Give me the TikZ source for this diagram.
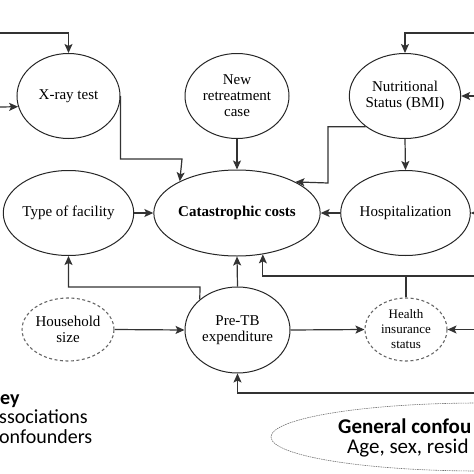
\documentclass[tikz,border=0pt]{standalone}
\usepackage{fontspec}
\setmainfont{Liberation Serif}
\newfontfamily\keyfont{Carlito}
\usetikzlibrary{shapes.geometric,arrows.meta}
\begin{document}
\begin{tikzpicture}[x=1pt,y=-1pt,
  ell/.style={ellipse,draw=black!85,line width=1pt,inner sep=0pt,align=center,font=\fontsize{15}{16}\selectfont},
  dell/.style={ell,draw=black!60,dash pattern=on 3pt off 2.5pt,line width=1.1pt},
  arr/.style={draw=black!80,line width=1.2pt,-{Stealth[length=9pt,width=8pt,inset=2pt]}},
  ln/.style={draw=black!80,line width=1.2pt},
  keytxt/.style={font=\keyfont\fontsize{20}{20}\selectfont,anchor=base west,inner sep=0pt},
]
\useasboundingbox (0,0) rectangle (474,474);
\clip (0,0) rectangle (474,474);

% nodes
\node[ell,minimum width=103pt,minimum height=85pt] (xray) at (68.5,96) {X-ray test};
\node[ell,minimum width=104pt,minimum height=85pt] (newr) at (237,96) {New\\retreatment\\case};
\node[ell,minimum width=104pt,minimum height=85pt] (nutr) at (405,96) {Nutritional\\Status (BMI)};
\node[ell,minimum width=103pt,minimum height=85pt] (type) at (68.5,213) {Type of facility};
\node[ell,minimum width=156pt,minimum height=86pt] (cat) at (237,213) {\textbf{Catastrophic costs}};
\node[ell,minimum width=105pt,minimum height=85pt] (hosp) at (405.5,213) {Hospitalization};
\node[ell,minimum width=105pt,minimum height=86pt] (pretb) at (237.5,330) {Pre-TB\\expenditure};
\node[dell,minimum width=78pt,minimum height=63pt] (house) at (68,329.5) {Household\\size};
\node[dell,minimum width=82pt,minimum height=63pt,font=\fontsize{13}{15}\selectfont] (health) at (406,329.5) {Health\\insurance\\status};
\node[ellipse,draw=black!55,dash pattern=on 1.5pt off 0.8pt,line width=0.6pt,inner sep=0pt,minimum width=418pt,minimum height=68pt] (gen) at (480,437) {};

% texts
\node[keytxt,font=\keyfont\bfseries\fontsize{21}{20}\selectfont] (gen1) at (338,433) {General confou};
\node[keytxt,font=\keyfont\fontsize{21}{20}\selectfont] (gen2) at (347,453) {Age, sex, resid};
\node[keytxt,font=\keyfont\bfseries\fontsize{20}{20}\selectfont] (key0) at (0,404) {ey};
\node[keytxt] (key1) at (-1,423) {ssociations};
\node[keytxt] (key2) at (-1,443) {onfounders};

% coordinates
\coordinate (c1) at (182,159);
\coordinate (c2) at (328,183);
\coordinate (c3) at (200,287);
\coordinate (c4) at (474,276);
\coordinate (e1) at (0,33);
\coordinate (e2) at (0,107);
\coordinate (e3) at (474,33);
\coordinate (e4) at (474,96);
\coordinate (e5) at (474,213);
\coordinate (e6) at (474,329.5);
\coordinate (e7) at (474,393);

% connectors
\draw[arr] (e1) -| (xray.north);
\draw[arr] (e2) -- (xray.192.5);
\draw[arr] (xray.east) |- (c1) -- (cat.151);
\draw[arr] (newr.south) -- (cat.north);
\draw[arr] (e3) -| (nutr.north);
\draw[arr] (e4) -- (nutr.east);
\draw[arr] (nutr.218) -| (c2) -- (cat.28);
\draw[arr] (nutr.south) -- (hosp.north);
\draw[arr] (e5) -- (hosp.east);
\draw[arr] (hosp.west) -- (cat.east);
\draw[arr] (type.east) -- (cat.west);
\draw[arr] (pretb.141) -- (c3) -| (type.south);
\draw[arr] (pretb.north) -- (cat.south);
\draw[ln] (health.north) -- (health.north |- c4);
\draw[arr] (c4) -| (cat.302.7);
\draw[arr] (house.east) -- (pretb.west);
\draw[arr] (pretb.east) -- (health.west);
\draw[arr] (e6) -- (health.east);
\draw[arr] (e7) -| (pretb.south);
\end{tikzpicture}
\end{document}
